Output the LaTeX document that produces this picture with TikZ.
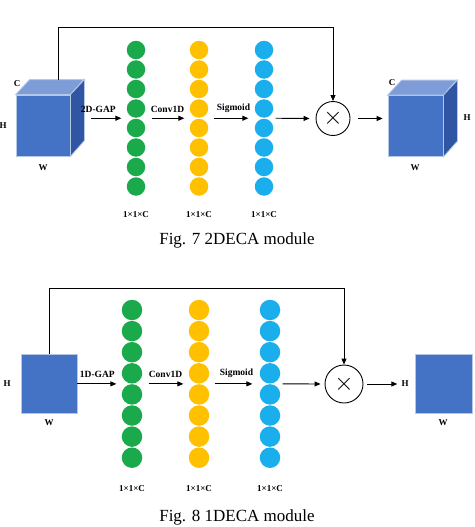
\documentclass[tikz,border=0pt]{standalone}
\usepackage{fontspec}
\setmainfont{Liberation Serif}
\usetikzlibrary{arrows.meta, positioning, fit, calc}

\definecolor{cubefront}{HTML}{4472C4}
\definecolor{cubetop}{HTML}{7E9CD8}
\definecolor{cubeside}{HTML}{2F55A3}
\definecolor{cubeedge}{HTML}{B4C7E7}
\definecolor{dotgreen}{HTML}{1BAA4B}
\definecolor{dotyellow}{HTML}{FFC000}
\definecolor{dotblue}{HTML}{1AAFEC}

\begin{document}
\begin{tikzpicture}[x=1pt, y=-1pt,
  lbl/.style={font=\bfseries\fontsize{9.5}{10}\selectfont, inner sep=1pt},
  dim/.style={font=\bfseries\fontsize{9}{10}\selectfont, inner sep=1pt},
  dot/.style={circle, inner sep=0pt},
  face/.style={fill=cubefront, draw=cubeedge, line width=0.8pt, inner sep=0pt},
  mult/.style={circle, draw, line width=0.9pt, inner sep=0pt, font=\fontsize{26}{26}\selectfont},
  arr/.style={-{Triangle[length=6pt, width=5pt]}, line width=0.9pt},
  figcap/.style={font=\fontsize{17}{18}\selectfont, inner sep=0pt}
]
  \useasboundingbox (0,0) rectangle (474,527);

  % ---------- Fig. 7: 2DECA ----------
  % input cube
  \node[face, minimum width=54pt, minimum height=61pt] (incube) at (43,125.5) {};
  \draw[fill=cubetop, draw=cubeedge, line width=0.8pt] (incube.north west) -- ++(14,-15) -- ++(54,0) -- (incube.north east) -- cycle;
  \draw[fill=cubeside, draw=cubeedge, line width=0.8pt] (incube.north east) -- ++(14,-15) -- ++(0,61) -- (incube.south east) -- cycle;
  \node[dim] (inC) at (17,84) {C};
  \node[dim] (inH) at (3,126) {H};
  \node[dim] (inW) at (43,168) {W};

  % channel columns
  \foreach \i in {1,...,8} {
    \node[dot, fill=dotgreen, minimum size=18.5pt] (ga\i) at (136, {50+19.5*(\i-1)}) {};
    \node[dot, fill=dotyellow, minimum size=18.5pt] (ca\i) at (199, {50+19.5*(\i-1)}) {};
    \node[dot, fill=dotblue, minimum size=18.5pt] (sa\i) at (264, {50+19.5*(\i-1)}) {};
  }
  \node[fit=(ga1)(ga8), inner sep=0pt] (gapA) {};
  \node[fit=(ca1)(ca8), inner sep=0pt] (convA) {};
  \node[fit=(sa1)(sa8), inner sep=0pt] (sigA) {};
  \node[dim, below=14pt of gapA.south] (gapAdim) {1×1×C};
  \node[dim, below=14pt of convA.south] (convAdim) {1×1×C};
  \node[dim, below=14pt of sigA.south] (sigAdim) {1×1×C};

  % multiply and output cube
  \node[mult, minimum size=34pt] (mulA) at (333,118.5) {$\times$};
  \node[face, minimum width=55pt, minimum height=61pt] (outcube) at (415.5,126) {};
  \draw[fill=cubetop, draw=cubeedge, line width=0.8pt] (outcube.north west) -- ++(14,-15) -- ++(55,0) -- (outcube.north east) -- cycle;
  \draw[fill=cubeside, draw=cubeedge, line width=0.8pt] (outcube.north east) -- ++(14,-15) -- ++(0,61) -- (outcube.south east) -- cycle;
  \node[dim] (outC) at (392,83) {C};
  \node[dim] (outH) at (467,118) {H};
  \node[dim] (outW) at (415,168) {W};

  % arrows
  \draw[arr, shorten <=21pt, shorten >=5pt] (incube.east |- gapA.west) -- node[lbl, above=4pt] {2D-GAP} (gapA.west);
  \draw[arr, shorten <=6pt, shorten >=5pt] (gapA.east) -- node[lbl, above=4pt] {Conv1D} (convA.west);
  \draw[arr, shorten <=5pt, shorten >=6pt] (convA.east) -- node[lbl, above=4pt, xshift=2pt] {Sigmoid} (sigA.west);
  \draw[arr, shorten <=2pt, shorten >=6pt] (sigA.east) -- (mulA.west);
  \draw[arr, shorten <=8pt, shorten >=5pt] (mulA.east) -- (outcube.west |- mulA.east);
  \draw[arr] ($(incube.north)+(15,-15)$) -- ++(0,-52) -| (mulA.north);

  \node[figcap] (capA) at (237,240) {Fig. 7 2DECA module};

  % ---------- Fig. 8: 1DECA ----------
  \node[face, minimum width=56pt, minimum height=59pt] (insq) at (49,383.5) {};
  \node[dim] (insqH) at (7,384) {H};
  \node[dim] (insqW) at (49,423) {W};

  \foreach \i in {1,...,8} {
    \node[dot, fill=dotgreen, minimum size=20.5pt] (gb\i) at (132, {310+21.1*(\i-1)}) {};
    \node[dot, fill=dotyellow, minimum size=20.5pt] (cb\i) at (199, {310+21.1*(\i-1)}) {};
    \node[dot, fill=dotblue, minimum size=20.5pt] (sb\i) at (270, {310+21.1*(\i-1)}) {};
  }
  \node[fit=(gb1)(gb8), inner sep=0pt] (gapB) {};
  \node[fit=(cb1)(cb8), inner sep=0pt] (convB) {};
  \node[fit=(sb1)(sb8), inner sep=0pt] (sigB) {};
  \node[dim, below=16pt of gapB.south] (gapBdim) {1×1×C};
  \node[dim, below=16pt of convB.south] (convBdim) {1×1×C};
  \node[dim, below=16pt of sigB.south] (sigBdim) {1×1×C};

  \node[mult, minimum size=38pt] (mulB) at (344,384) {$\times$};
  \node[face, minimum width=57pt, minimum height=59pt] (outsq) at (443.5,383.5) {};
  \node[dim] (outsqH) at (405,384) {H};
  \node[dim] (outsqW) at (443,423) {W};

  \draw[arr, shorten >=5pt] (insq.east |- gapB.west) -- node[lbl, above=5pt, xshift=-2pt] {1D-GAP} (gapB.west);
  \draw[arr, shorten <=6pt, shorten >=5pt] (gapB.east) -- node[lbl, above=5pt] {Conv1D} (convB.west);
  \draw[arr, shorten <=5pt, shorten >=7pt] (convB.east) -- node[lbl, above=5pt, xshift=2pt] {Sigmoid} (sigB.west);
  \draw[arr, shorten <=2pt, shorten >=4pt] (sigB.east) -- (mulB.west);
  \draw[arr, shorten <=4pt, shorten >=3pt] (mulB.east) -- (outsqH.west);
  \draw[arr] (insq.north) -- ++(0,-65) -| (mulB.north);

  \node[figcap] (capB) at (237,517) {Fig. 8 1DECA module};
\end{tikzpicture}
\end{document}
